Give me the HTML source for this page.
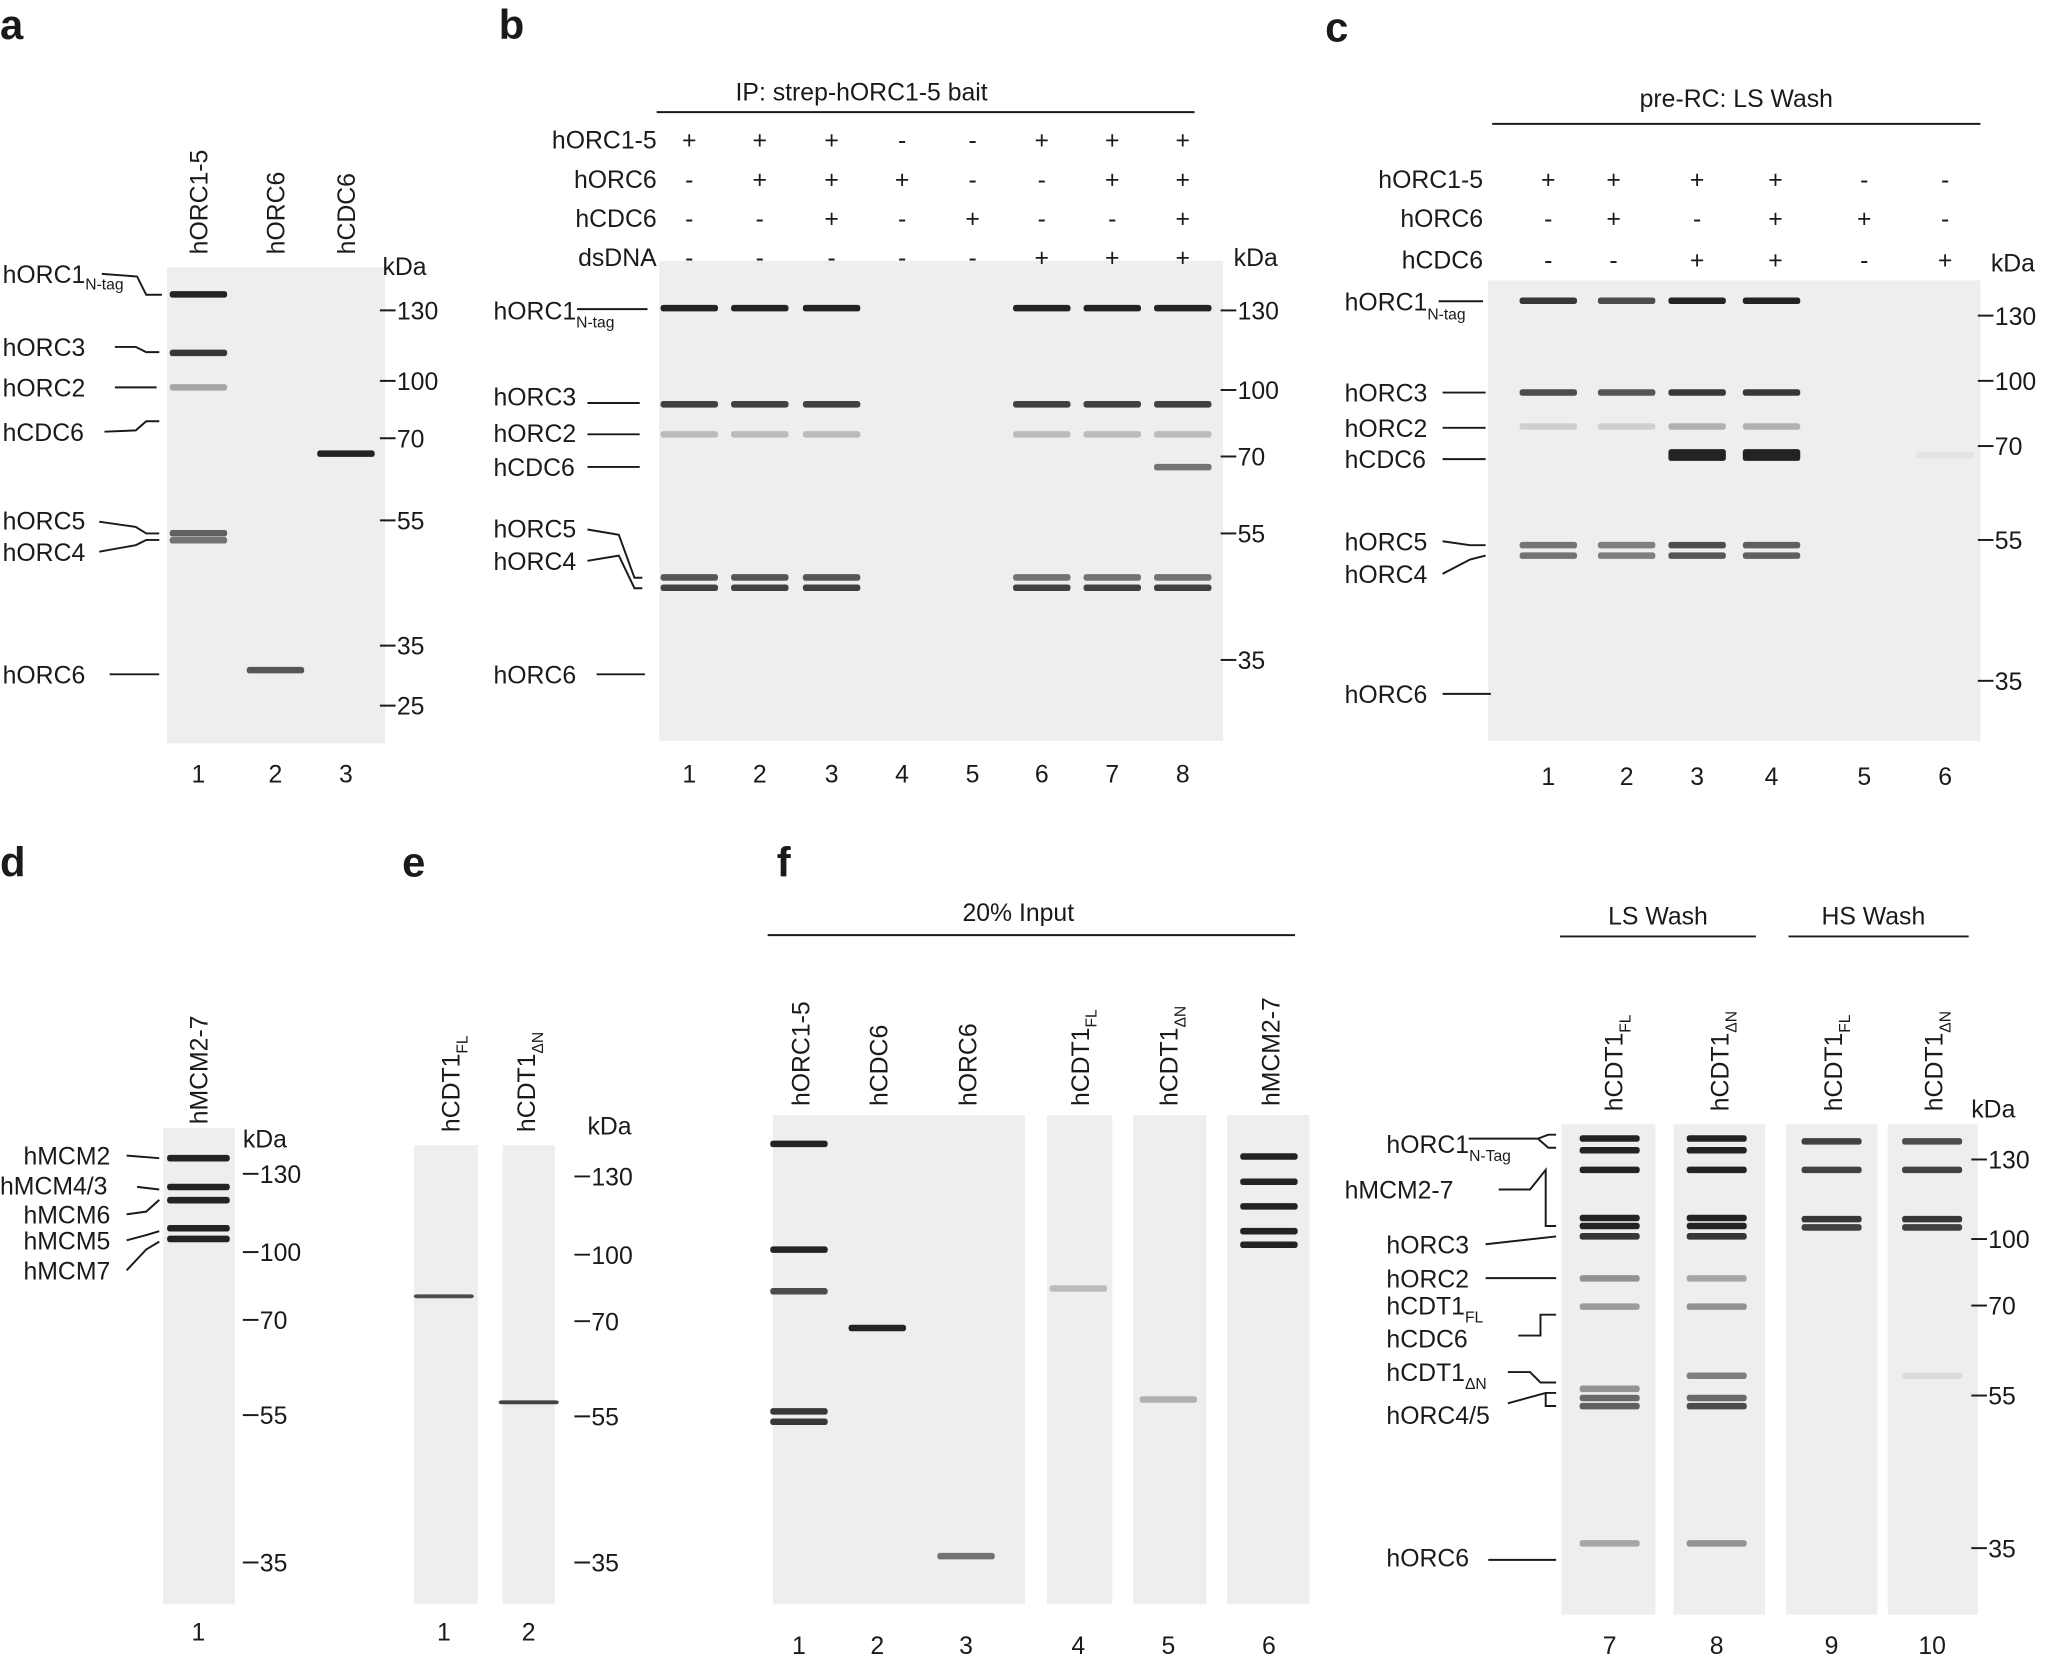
<!DOCTYPE html>
<html><head><meta charset="utf-8">
<style>
html,body{margin:0;padding:0;background:#fff;}
svg{display:block;font-family:"Liberation Sans",Arial,sans-serif;}
text{fill:#1a1a1a;}
.pl{font-size:32px;font-weight:bold;}
.t{font-size:19px;}
.s{font-size:12px;}
</style></head>
<body>
<svg id="fig" width="2047" height="1659" viewBox="0 0 1568 1272" preserveAspectRatio="none" xmlns="http://www.w3.org/2000/svg">
<g id="gels"></g>
<g stroke="#1a1a1a" stroke-width="1.5" fill="none">
<polyline points="78,210 105,212 112,226 124,226"/>
<polyline points="88,266 104,266 112,270 122,270"/>
<line x1="88" y1="297" x2="120" y2="297"/>
<polyline points="80,331 104,330 112,323 122,323"/>
<polyline points="76,400 104,404 112,409 122,409"/>
<polyline points="76,423 104,418 112,414 122,414"/>
<line x1="84" y1="517" x2="122" y2="517"/>
<line x1="503" y1="86" x2="915" y2="86"/>
<line x1="442" y1="237" x2="496" y2="237"/>
<line x1="450" y1="309" x2="490" y2="309"/>
<line x1="450" y1="333" x2="490" y2="333"/>
<line x1="450" y1="358" x2="490" y2="358"/>
<polyline points="450,406 474,410 486,443 492,443"/>
<polyline points="450,430 474,426 486,451 492,451"/>
<line x1="457" y1="517" x2="494" y2="517"/>
<line x1="1143" y1="95" x2="1517" y2="95"/>
<line x1="1102" y1="231" x2="1136" y2="231"/>
<line x1="1105" y1="301" x2="1138" y2="301"/>
<line x1="1105" y1="328" x2="1138" y2="328"/>
<line x1="1105" y1="352" x2="1138" y2="352"/>
<polyline points="1105,415 1126,418 1138,418"/>
<polyline points="1105,440 1126,429 1138,426"/>
<line x1="1105" y1="532" x2="1142" y2="532"/>
<line x1="97" y1="886" x2="122" y2="888"/>
<line x1="105" y1="910" x2="122" y2="912"/>
<polyline points="97,931 112,929 122,920"/>
<polyline points="97,951 112,947 122,944"/>
<polyline points="97,974 112,958 122,952"/>
<line x1="588" y1="717" x2="992" y2="717"/>
<line x1="1195" y1="718" x2="1345" y2="718"/>
<line x1="1370" y1="718" x2="1508" y2="718"/>
<line x1="1125" y1="873" x2="1178" y2="873"/>
<polyline points="1178,873 1186,870 1192,870"/>
<polyline points="1178,873 1186,880 1192,880"/>
<polyline points="1148,912 1172,912 1184,897 1184,940 1192,940"/>
<line x1="1138" y1="954" x2="1192" y2="948"/>
<line x1="1138" y1="980" x2="1192" y2="980"/>
<polyline points="1163,1024 1180,1024 1180,1008 1192,1008"/>
<polyline points="1155,1052 1172,1052 1180,1060 1192,1060"/>
<polyline points="1155,1076 1184,1068 1192,1068"/>
<polyline points="1184,1068 1184,1078 1192,1078"/>
<line x1="1140" y1="1196" x2="1192" y2="1196"/>
</g>
<text class="pl" x="0" y="30">a</text>
<text class="pl" x="382" y="30">b</text>
<text class="pl" x="1015" y="32">c</text>
<text class="pl" x="0" y="672">d</text>
<text class="pl" x="308" y="672">e</text>
<text class="pl" x="595" y="672">f</text>
<g class="t">
<text x="2" y="217">hORC1<tspan class="s" dy="5">N-tag</tspan></text>
<text x="2" y="273">hORC3</text><text x="2" y="304">hORC2</text><text x="2" y="338">hCDC6</text>
<text x="2" y="406">hORC5</text><text x="2" y="430">hORC4</text><text x="2" y="524">hORC6</text>
<text x="293" y="211">kDa</text>
<text transform="translate(159,195) rotate(-90)">hORC1-5</text>
<text transform="translate(218,195) rotate(-90)">hORC6</text>
<text transform="translate(272,195) rotate(-90)">hCDC6</text>
</g>
<g class="t">
<text x="660" y="77" text-anchor="middle">IP: strep-hORC1-5 bait</text>
<text x="503" y="114" text-anchor="end">hORC1-5</text>
<text x="503" y="144" text-anchor="end">hORC6</text>
<text x="503" y="174" text-anchor="end">hCDC6</text>
<text x="503" y="204" text-anchor="end">dsDNA</text>
<text x="945" y="204">kDa</text>
<text x="378" y="245">hORC1<tspan class="s" dy="6">N-tag</tspan></text>
<text x="378" y="311">hORC3</text><text x="378" y="339">hORC2</text><text x="378" y="365">hCDC6</text>
<text x="378" y="412">hORC5</text><text x="378" y="437">hORC4</text><text x="378" y="524">hORC6</text>
</g>
<g class="t">
<text x="1330" y="82" text-anchor="middle">pre-RC: LS Wash</text>
<text x="1136" y="144" text-anchor="end">hORC1-5</text>
<text x="1136" y="174" text-anchor="end">hORC6</text>
<text x="1136" y="206" text-anchor="end">hCDC6</text>
<text x="1525" y="208">kDa</text>
<text x="1030" y="238">hORC1<tspan class="s" dy="7">N-tag</tspan></text>
<text x="1030" y="308">hORC3</text><text x="1030" y="335">hORC2</text><text x="1030" y="359">hCDC6</text>
<text x="1030" y="422">hORC5</text><text x="1030" y="447">hORC4</text><text x="1030" y="539">hORC6</text>
</g>
<g class="t">
<text x="18" y="893">hMCM2</text><text x="0" y="916">hMCM4/3</text><text x="18" y="938">hMCM6</text>
<text x="18" y="958">hMCM5</text><text x="18" y="981">hMCM7</text>
<text x="186" y="880">kDa</text>
<text transform="translate(159,862) rotate(-90)">hMCM2-7</text>
</g>
<g class="t">
<text x="450" y="870">kDa</text>
<text transform="translate(352,868) rotate(-90)">hCDT1<tspan class="s" dy="6">FL</tspan></text>
<text transform="translate(410,868) rotate(-90)">hCDT1<tspan class="s" dy="6">ΔN</tspan></text>
</g>
<g class="t">
<text x="780" y="706" text-anchor="middle">20% Input</text>
<text x="1270" y="709" text-anchor="middle">LS Wash</text>
<text x="1435" y="709" text-anchor="middle">HS Wash</text>
<text x="1510" y="857">kDa</text>
<text transform="translate(620,848) rotate(-90)">hORC1-5</text>
<text transform="translate(680,848) rotate(-90)">hCDC6</text>
<text transform="translate(748,848) rotate(-90)">hORC6</text>
<text transform="translate(834,848) rotate(-90)">hCDT1<tspan class="s" dy="6">FL</tspan></text>
<text transform="translate(902,848) rotate(-90)">hCDT1<tspan class="s" dy="6">ΔN</tspan></text>
<text transform="translate(980,848) rotate(-90)">hMCM2-7</text>
<text transform="translate(1243,852) rotate(-90)">hCDT1<tspan class="s" dy="6">FL</tspan></text>
<text transform="translate(1324,852) rotate(-90)">hCDT1<tspan class="s" dy="6">ΔN</tspan></text>
<text transform="translate(1411,852) rotate(-90)">hCDT1<tspan class="s" dy="6">FL</tspan></text>
<text transform="translate(1488,852) rotate(-90)">hCDT1<tspan class="s" dy="6">ΔN</tspan></text>
<text x="1062" y="884">hORC1<tspan class="s" dy="6">N-Tag</tspan></text>
<text x="1030" y="919">hMCM2-7</text>
<text x="1062" y="961">hORC3</text><text x="1062" y="987">hORC2</text>
<text x="1062" y="1008">hCDT1<tspan class="s" dy="6">FL</tspan></text>
<text x="1062" y="1033">hCDC6</text>
<text x="1062" y="1059">hCDT1<tspan class="s" dy="6">ΔN</tspan></text>
<text x="1062" y="1092">hORC4/5</text>
<text x="1062" y="1201">hORC6</text>
</g>
</svg>
<script>
const ticksA = [130,100,70,55,35,25];
const ticksB = [130,100,70,55,35];
const ticksC = [130,100,70,55,35];
const ticksD = [130,100,70,55,35];
const ticksE = [130,100,70,55,35];
const ticksF = [130,100,70,55,35];
const lanesA = ["1","2","3"];
const bandsA = [[[138,1],[111,.9],[96,.35],[52.5,.7],[51.2,.6]],[[30.5,.75]],[[66.9,1]]];
const lanesB = ["1","2","3","4","5","6","7","8"];
const signsB = [["+","+","+","-","-","+","+","+"],["-","+","+","+","-","-","+","+"],["-","-","+","-","+","-","-","+"],["-","-","-","-","-","+","+","+"]];
const bandsB = [
 [[131,1],[92.6,.85],[78.8,.25],[47,.75],[45.3,.85]],
 [[131,1],[92.6,.85],[78.8,.25],[47,.75],[45.3,.85]],
 [[131,1],[92.6,.85],[78.8,.25],[47,.75],[45.3,.85]],
 [],[],
 [[131,1],[92.6,.85],[78.8,.25],[47,.6],[45.3,.85]],
 [[131,1],[92.6,.85],[78.8,.25],[47,.6],[45.3,.85]],
 [[131,1],[92.6,.85],[78.8,.25],[67.7,.6],[47,.6],[45.3,.85]]];
const lanesC = ["1","2","3","4","5","6"];
const signsC = [["+","+","+","+","-","-"],["-","+","-","+","+","-"],["-","-","+","+","-","+"]];
const bandsC = [
 [[138,.9],[93.8,.8],[77.9,.15],[54.1,.6],[52.3,.6]],
 [[138,.8],[93.8,.75],[77.9,.15],[54.1,.55],[52.3,.55]],
 [[138,1],[93.8,.9],[77.9,.3],[68.4,1.4],[54.1,.8],[52.3,.75]],
 [[138,1],[93.8,.9],[77.9,.3],[68.4,1.4],[54.1,.7],[52.3,.7]],
 [],[[68.4,.05]]];
const lanesD = ["1"];
const bandsD = [[[137,1],[124.4,1],[119,1],[108.3,1],[104.5,1]]];
const lanesE = ["1","2"];
const bandsE = [[[80,.8]],[[57,.85]]];
const lanesF1 = ["1","2","3","4","5","6"];
const bandsF1 = [
 [[145,1],[101.7,1],[82.2,.8],[55.7,.9],[54.1,.9]],
 [[68.8,1]],[[35.7,.6]],[[83.4,.25]],[[57.4,.3]],
 [[139,1],[127.7,1],[117.6,1],[108.2,1],[103.4,1]]];
const lanesF2 = ["7","8","9","10"];
const bandsF2 = [
 [[139.3,1],[134,1],[125.6,1],[107.2,1],[104.4,1],[100.9,.9],[81,.45],[69.8,.4],[56,.45],[54.6,.65],[53.3,.7],[35.5,.35]],
 [[139.3,1],[134,1],[125.6,1],[107.2,1],[104.4,1],[100.9,.9],[81,.35],[69.8,.45],[58,.55],[54.6,.65],[53.3,.8],[35.5,.45]],
 [[138,.85],[125.6,.85],[106.8,.9],[103.9,.85]],
 [[138,.8],[125.6,.85],[106.8,.9],[103.9,.85],[58,.1]]];

const NS="http://www.w3.org/2000/svg";
const G=document.getElementById('gels');
function mk(tag,attrs,parent){const e=document.createElementNS(NS,tag);for(const k in attrs)e.setAttribute(k,attrs[k]);(parent||G).appendChild(e);return e;}
function yScale(ticks,pix){
 return function(k){
  const lk=Math.log(k);
  let i=0;
  if(k>ticks[0]) i=0; else if(k<ticks[ticks.length-1]) i=ticks.length-2;
  else {for(i=0;i<ticks.length-2;i++){if(k>=ticks[i+1])break;}}
  const a=Math.log(ticks[i]),b=Math.log(ticks[i+1]);
  return pix[i]+(lk-a)/(b-a)*(pix[i+1]-pix[i]);
 };
}
function drawPanel(name,ticks,tickPix,gels,laneX,laneW,lanes,bands,tickX,numY,bandH){
 const y=yScale(ticks,tickPix);
 gels.forEach((g,i)=>{
  const r=mk('rect',{x:g[0],y:g[1],width:g[2]-g[0],height:g[3]-g[1],fill:'#eeeeee'});
  
  
 });
 bands.forEach((lb,li)=>{
  lb.forEach(b=>{
   const op=Math.min(1,b[1]);
   const h=bandH*(b[1]>1?1.8:1);
   const r=mk('rect',{x:laneX[li]-laneW/2,y:y(b[0])-h/2,width:laneW,height:h,rx:2,fill:'#111','fill-opacity':op*0.92});
   
   
  });
 });
 lanes.forEach((l,li)=>{
  const t=mk('text',{x:laneX[li],y:numY,'text-anchor':'middle','font-size':19});
  t.textContent=l;
  
  
 });
 if(tickX!==null){
  ticks.forEach((k,i)=>{
   const yy=tickPix[i];
   const ln=mk('line',{x1:tickX,y1:yy,x2:tickX+12,y2:yy,stroke:'#1a1a1a','stroke-width':1.5});
   
   
   const t=mk('text',{x:tickX+13,y:yy+7,'font-size':19});
   t.textContent=k;
   
   
  });
 }
}
function drawSigns(name,signs,laneX,rowY){
 signs.forEach((row,ri)=>row.forEach((s,li)=>{
  const t=mk('text',{x:laneX[li],y:rowY[ri],'text-anchor':'middle','font-size':19});
  t.textContent=s;
  
  
 }));
}
drawPanel('panel-a',ticksA,[238,292,336,399,495,541],[[128,205,295,570]],[152,211,265],44,lanesA,bandsA,291,600,5);
drawPanel('panel-b',ticksB,[238,299,350,409,506],[[505,200,937,568]],[528,582,637,691,745,798,852,906],44,lanesB,bandsB,935,600,5);
drawSigns('panel-b',signsB,[528,582,637,691,745,798,852,906],[114,144,174,204]);
drawPanel('panel-c',ticksC,[242,292,342,414,522],[[1140,215,1517,568]],[1186,1246,1300,1357,1428,1490],44,lanesC,bandsC,1515,602,5);
drawSigns('panel-c',signsC,[1186,1236,1300,1360,1428,1490],[144,174,206]);
drawPanel('panel-d',ticksD,[900,960,1012,1085,1198],[[125,865,180,1230]],[152],48,lanesD,bandsD,186,1258,5);
drawPanel('panel-e',ticksE,[902,962,1013,1086,1198],[[317,878,366,1230],[385,878,425,1230]],[340,405],46,lanesE,bandsE,440,1258,3);
drawPanel('panel-f-input',ticksF,[902,962,1013,1086,1198],[[592,855,785,1230],[802,855,852,1230],[868,855,924,1230],[940,855,1003,1230]],[612,672,740,826,895,972],44,lanesF1,bandsF1,null,1268,5);
drawPanel('panel-f-wash',ticksF,[889,950,1001,1070,1187],[[1196,862,1268,1238],[1282,862,1352,1238],[1368,862,1438,1238],[1446,862,1515,1238]],[1233,1315,1403,1480],46,lanesF2,bandsF2,1510,1268,5);
</script>
</body></html>
